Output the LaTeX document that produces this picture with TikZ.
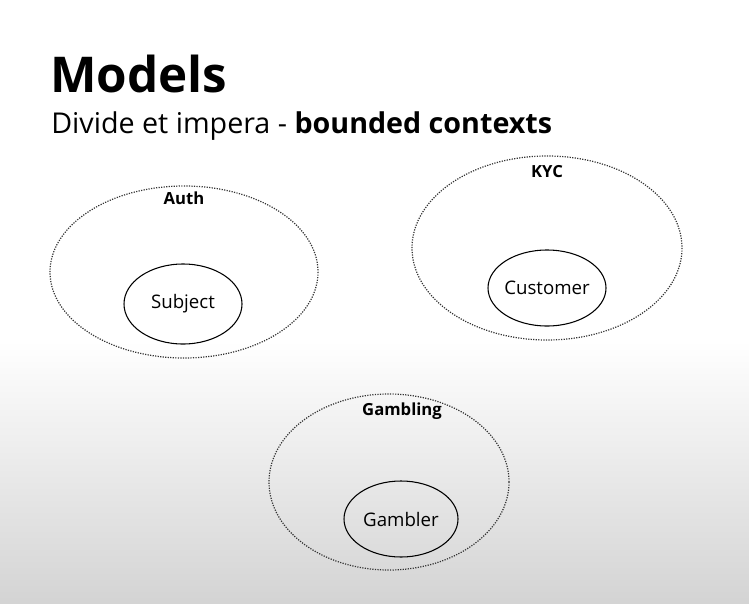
\documentclass[tikz,border=0pt]{standalone}
\usepackage{fontspec}
\setmainfont{Open Sans}
\begin{document}
\begin{tikzpicture}[x=0.75pt,y=-0.75pt,
  ctx/.style={draw=black!80,densely dotted,line width=0.9pt},
  ent/.style={draw=black,line width=0.8pt},
  txt/.style={font=\fontsize{14}{16}\selectfont},
  lbl/.style={font=\bfseries\fontsize{12.5}{14}\selectfont}]
\useasboundingbox (0,0) rectangle (749,603);
\fill[white] (0,0) rectangle (749,340);
\shade[top color=white,bottom color=black!17] (0,340) rectangle (749,603);
\node[anchor=base west,inner sep=0,font=\bfseries\fontsize{37}{40}\selectfont] (title) at (50,92) {Models};
\node[anchor=base west,inner sep=0,font=\fontsize{21.5}{24}\selectfont] (sub) at (51,133) {Divide et impera - \textbf{bounded contexts}};
\draw[ctx] (184,272) ellipse [x radius=134,y radius=86];
\node[lbl] (auth) at (184,198) {Auth};
\draw[ent] (183,304) ellipse [x radius=59,y radius=40];
\node[txt] (subject) at (183,304) {Subject};
\draw[ctx] (547,248) ellipse [x radius=135,y radius=92];
\node[lbl] (kyc) at (547,172) {KYC};
\draw[ent] (547,288) ellipse [x radius=59,y radius=38];
\node[txt] (customer) at (547,288) {Customer};
\draw[ctx] (389,482) ellipse [x radius=120,y radius=88];
\node[lbl] (gambling) at (402,411) {Gambling};
\draw[ent] (401,519) ellipse [x radius=57,y radius=38];
\node[txt] (gambler) at (401,519) {Gambler};
\end{tikzpicture}
\end{document}
